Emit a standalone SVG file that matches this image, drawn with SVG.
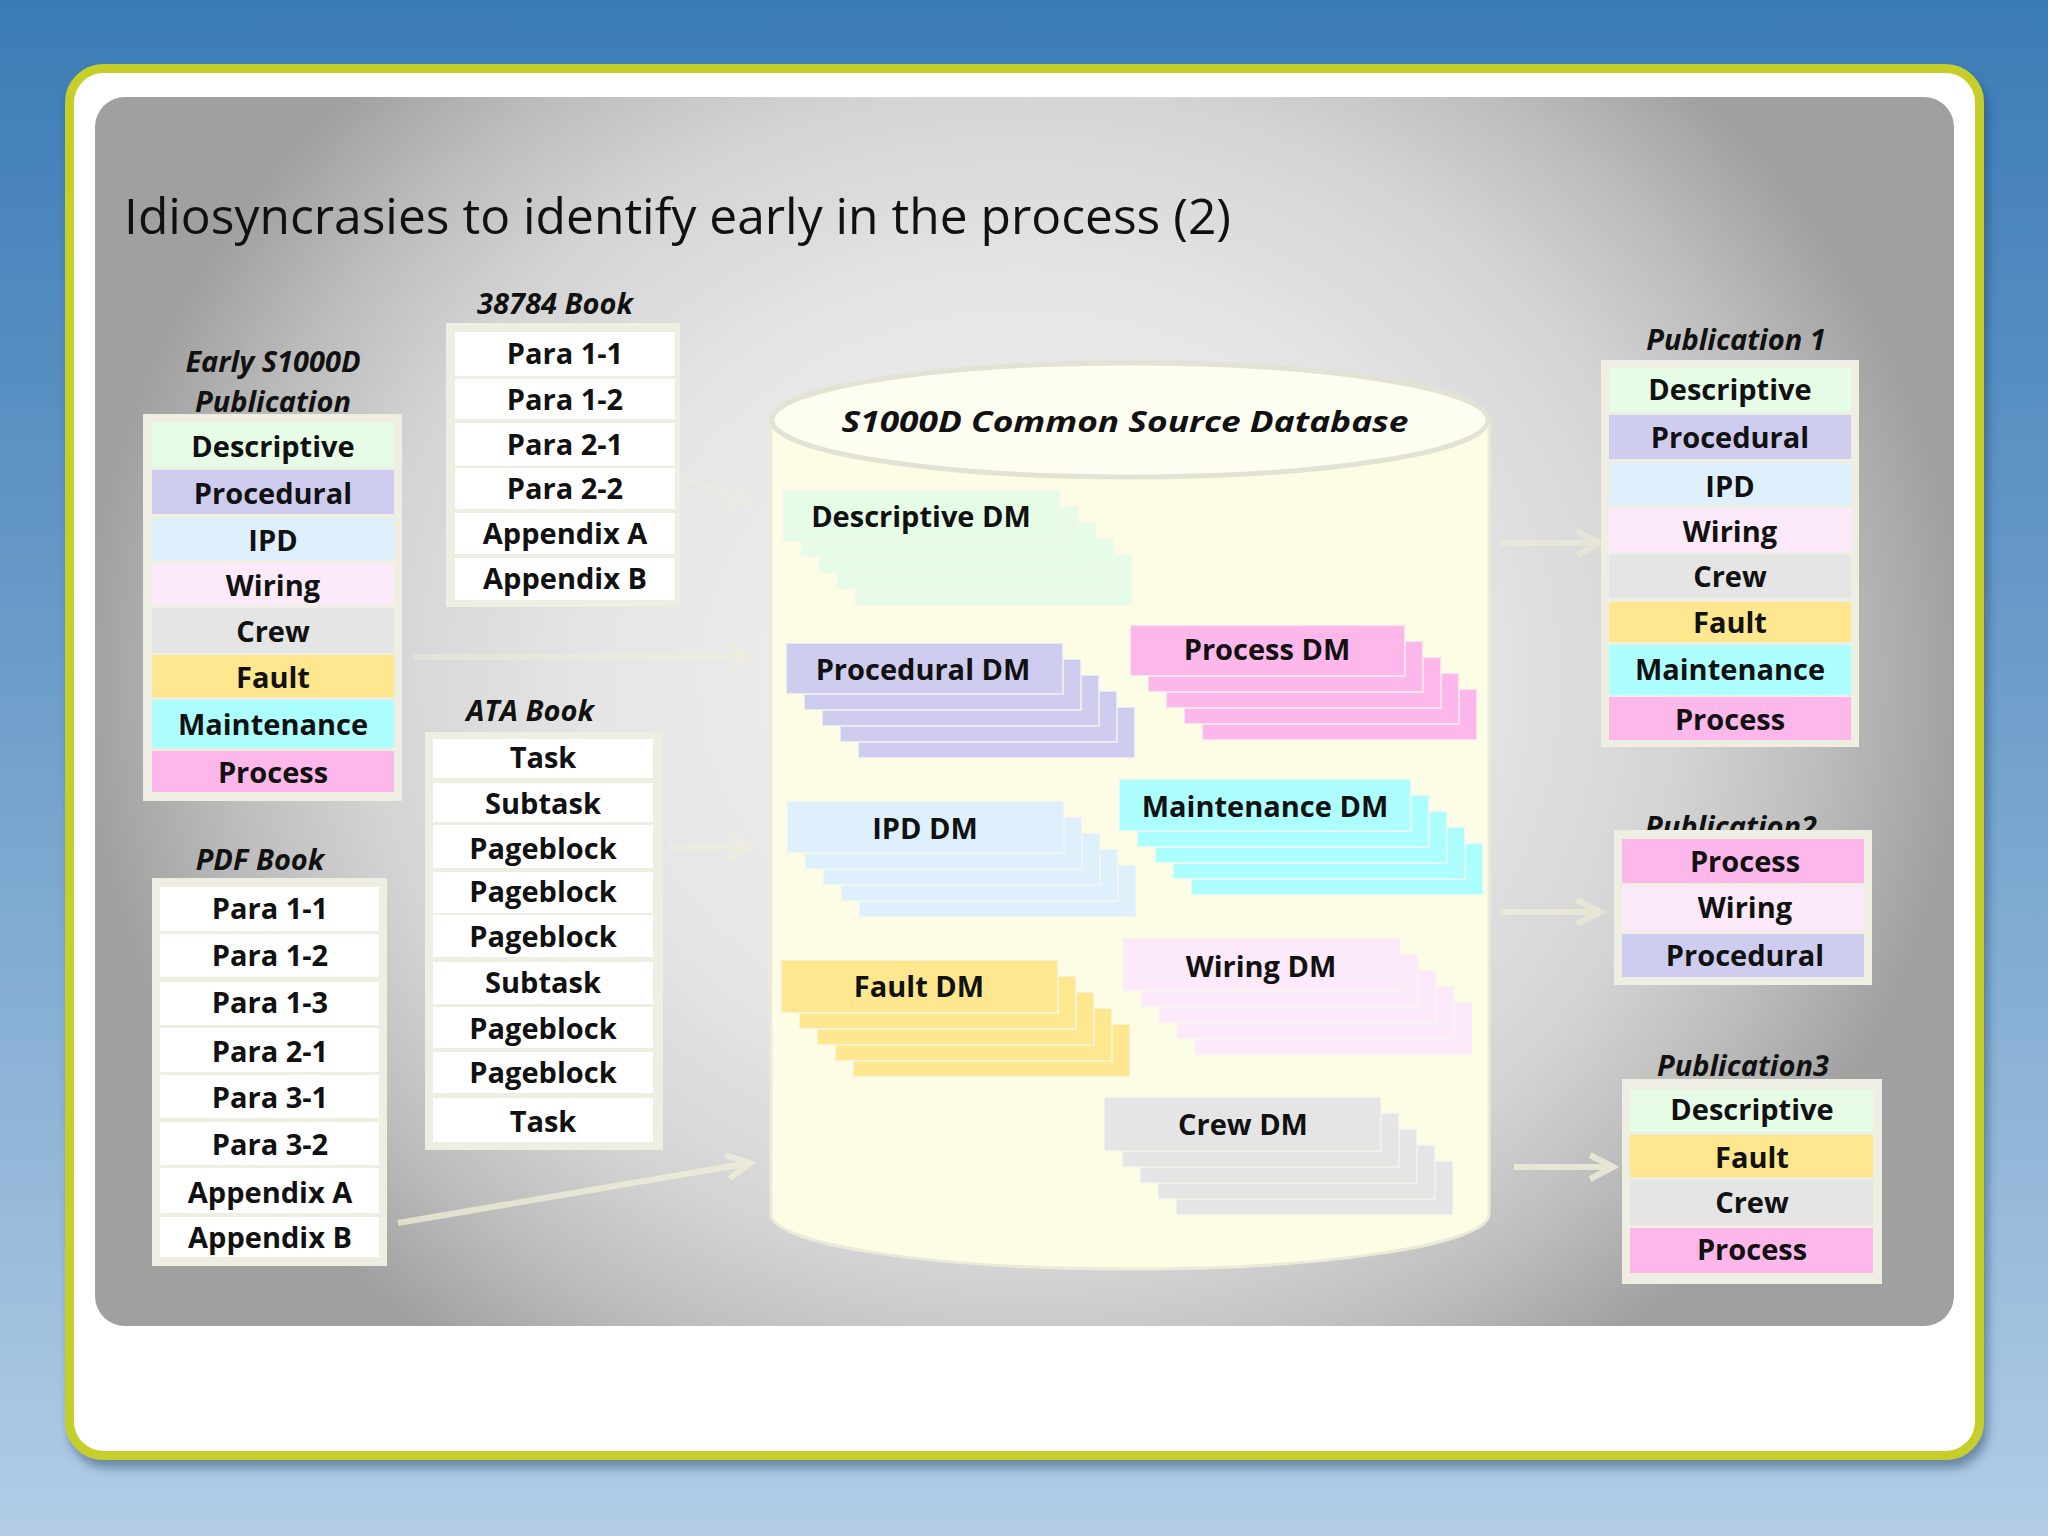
<svg xmlns="http://www.w3.org/2000/svg" width="2048" height="1536" viewBox="0 0 2048 1536">
<defs>
<linearGradient id="bg" x1="0" y1="0" x2="0" y2="1">
<stop offset="0" stop-color="#3b7bb6"/>
<stop offset="0.5" stop-color="#74a2cd"/>
<stop offset="1" stop-color="#b2cce5"/>
</linearGradient>
<radialGradient id="panelG" gradientUnits="userSpaceOnUse" cx="1024" cy="680" r="940" gradientTransform="translate(1024 680) scale(1 0.9) translate(-1024 -680)">
<stop offset="0" stop-color="#f1f1f1"/>
<stop offset="0.45" stop-color="#e6e6e6"/>
<stop offset="0.7" stop-color="#d4d4d4"/>
<stop offset="0.85" stop-color="#bdbdbd"/>
<stop offset="1" stop-color="#a0a0a0"/>
</radialGradient>
<filter id="shadow" x="-5%" y="-5%" width="110%" height="112%">
<feDropShadow dx="4" dy="8" stdDeviation="5" flood-color="#1e3c5c" flood-opacity="0.45"/>
</filter>
<marker id="chev" markerUnits="userSpaceOnUse" viewBox="-30 -20 40 40" markerWidth="40" markerHeight="40" refX="0" refY="0" orient="auto">
<path d="M-23 -12 L0 0 L-23 12" fill="none" stroke="#f1f0d8" stroke-width="6" stroke-linejoin="miter"/>
</marker>
<style>
.ct{fill:#eeeee2}
.row{fill:#ffffff}
.desc{fill:#e6fce7}
.proc{fill:#cfcdef}
.ipd{fill:#def0fc}
.wir{fill:#fce9fa}
.crew{fill:#e5e5e5}
.flt{fill:#fee78e}
.mnt{fill:#adfefe}
.prc{fill:#fdb7ea}
.lay{stroke:#f6f6ee;stroke-width:2;stroke-opacity:0.7}
text{font-family:"Open Sans","Liberation Sans",sans-serif;fill:#111111}
.lbl{font-weight:700;font-size:29px;text-anchor:middle}
.hd{font-weight:700;font-style:italic;font-size:29px;text-anchor:middle}
.arr{fill:none;stroke:#f1f0d8;stroke-width:6;marker-end:url(#chev)}
</style>
</defs>

<rect x="0" y="0" width="2048" height="1536" fill="url(#bg)"/>
<rect x="69.5" y="68.5" width="1910" height="1387" rx="34" fill="#ffffff" stroke="#c6cf2b" stroke-width="9" filter="url(#shadow)"/>
<rect x="95" y="97" width="1859" height="1229" rx="30" fill="url(#panelG)"/>

<g id="title">
<text x="124" y="234" font-size="49" textLength="1107" lengthAdjust="spacingAndGlyphs">Idiosyncrasies to identify early in the process (2)</text>
</g>

<g id="database">
<path d="M771 420 L771 1214 A359 55 0 0 0 1489 1214 L1489 420 Z" fill="#fdfde6" stroke="#ecebd9" stroke-width="3"/>
<ellipse cx="1130" cy="420" rx="358" ry="57" fill="#fdfdf1" stroke="#e3e3d3" stroke-width="5"/>
<text class="hd" x="1125" y="432" font-size="34" textLength="567" lengthAdjust="spacingAndGlyphs">S1000D Common Source Database</text>
</g>

<g id="dm-descriptive">
<rect class="desc lay" x="855" y="554" width="277" height="51"/>
<rect class="desc lay" x="837" y="538" width="277" height="51"/>
<rect class="desc lay" x="819" y="522" width="277" height="51"/>
<rect class="desc lay" x="801" y="506" width="277" height="51"/>
<rect class="desc lay" x="783" y="490" width="277" height="51"/>
<text class="lbl" x="921" y="527">Descriptive DM</text>
</g>
<g id="dm-procedural">
<rect class="proc lay" x="858" y="707" width="277" height="51"/>
<rect class="proc lay" x="840" y="691" width="277" height="51"/>
<rect class="proc lay" x="822" y="675" width="277" height="51"/>
<rect class="proc lay" x="804" y="659" width="277" height="51"/>
<rect class="proc lay" x="786" y="643" width="277" height="51"/>
<text class="lbl" x="923" y="680">Procedural DM</text>
</g>
<g id="dm-process">
<rect class="prc lay" x="1202" y="689" width="275" height="51"/>
<rect class="prc lay" x="1184" y="673" width="275" height="51"/>
<rect class="prc lay" x="1166" y="657" width="275" height="51"/>
<rect class="prc lay" x="1148" y="641" width="275" height="51"/>
<rect class="prc lay" x="1130" y="625" width="275" height="51"/>
<text class="lbl" x="1267" y="660">Process DM</text>
</g>
<g id="dm-maintenance">
<rect class="mnt lay" x="1191" y="843" width="292" height="52"/>
<rect class="mnt lay" x="1173" y="827" width="292" height="52"/>
<rect class="mnt lay" x="1155" y="811" width="292" height="52"/>
<rect class="mnt lay" x="1137" y="795" width="292" height="52"/>
<rect class="mnt lay" x="1119" y="779" width="292" height="52"/>
<text class="lbl" x="1265" y="817">Maintenance DM</text>
</g>
<g id="dm-ipd">
<rect class="ipd lay" x="859" y="865" width="277" height="52"/>
<rect class="ipd lay" x="841" y="849" width="277" height="52"/>
<rect class="ipd lay" x="823" y="833" width="277" height="52"/>
<rect class="ipd lay" x="805" y="817" width="277" height="52"/>
<rect class="ipd lay" x="787" y="801" width="277" height="52"/>
<text class="lbl" x="925" y="839">IPD DM</text>
</g>
<g id="dm-fault">
<rect class="flt lay" x="853" y="1024" width="277" height="53"/>
<rect class="flt lay" x="835" y="1008" width="277" height="53"/>
<rect class="flt lay" x="817" y="992" width="277" height="53"/>
<rect class="flt lay" x="799" y="976" width="277" height="53"/>
<rect class="flt lay" x="781" y="960" width="277" height="53"/>
<text class="lbl" x="919" y="997">Fault DM</text>
</g>
<g id="dm-wiring">
<rect class="wir lay" x="1195" y="1002" width="277" height="53"/>
<rect class="wir lay" x="1177" y="986" width="277" height="53"/>
<rect class="wir lay" x="1159" y="970" width="277" height="53"/>
<rect class="wir lay" x="1141" y="954" width="277" height="53"/>
<rect class="wir lay" x="1123" y="938" width="277" height="53"/>
<text class="lbl" x="1261" y="977">Wiring DM</text>
</g>
<g id="dm-crew">
<rect class="crew lay" x="1176" y="1161" width="277" height="54"/>
<rect class="crew lay" x="1158" y="1145" width="277" height="54"/>
<rect class="crew lay" x="1140" y="1129" width="277" height="54"/>
<rect class="crew lay" x="1122" y="1113" width="277" height="54"/>
<rect class="crew lay" x="1104" y="1097" width="277" height="54"/>
<text class="lbl" x="1243" y="1135">Crew DM</text>
</g>

<g id="early-s1000d">
<text class="hd" x="273" y="372">Early S1000D</text>
<text class="hd" x="273" y="412">Publication</text>
<rect class="ct" x="143" y="414" width="259" height="387"/>
<rect class="desc" x="152" y="422" width="242" height="45"/>
<rect class="proc" x="152" y="470" width="242" height="44"/>
<rect class="ipd" x="152" y="518" width="242" height="42"/>
<rect class="wir" x="152" y="563" width="242" height="42"/>
<rect class="crew" x="152" y="608" width="242" height="45"/>
<rect class="flt" x="152" y="655" width="242" height="42"/>
<rect class="mnt" x="152" y="700" width="242" height="48"/>
<rect class="prc" x="152" y="751" width="242" height="41"/>
<text class="lbl" x="273" y="457">Descriptive</text>
<text class="lbl" x="273" y="504">Procedural</text>
<text class="lbl" x="273" y="551">IPD</text>
<text class="lbl" x="273" y="596">Wiring</text>
<text class="lbl" x="273" y="642">Crew</text>
<text class="lbl" x="273" y="688">Fault</text>
<text class="lbl" x="273" y="735">Maintenance</text>
<text class="lbl" x="273" y="783">Process</text>
</g>

<g id="book-38784">
<text class="hd" x="555" y="314">38784 Book</text>
<rect class="ct" x="446" y="323" width="234" height="284"/>
<rect class="row" x="455" y="332" width="220" height="44"/>
<rect class="row" x="455" y="379" width="220" height="40"/>
<rect class="row" x="455" y="423" width="220" height="43"/>
<rect class="row" x="455" y="468" width="220" height="41"/>
<rect class="row" x="455" y="513" width="220" height="41"/>
<rect class="row" x="455" y="558" width="220" height="42"/>
<text class="lbl" x="565" y="364">Para 1-1</text>
<text class="lbl" x="565" y="410">Para 1-2</text>
<text class="lbl" x="565" y="455">Para 2-1</text>
<text class="lbl" x="565" y="499">Para 2-2</text>
<text class="lbl" x="565" y="544">Appendix A</text>
<text class="lbl" x="565" y="589">Appendix B</text>
</g>

<g id="ata-book">
<text class="hd" x="530" y="721">ATA Book</text>
<rect class="ct" x="425" y="732" width="238" height="418"/>
<rect class="row" x="433" y="739" width="220" height="39"/>
<rect class="row" x="433" y="783" width="220" height="39"/>
<rect class="row" x="433" y="825" width="220" height="43"/>
<rect class="row" x="433" y="872" width="220" height="41"/>
<rect class="row" x="433" y="915" width="220" height="42"/>
<rect class="row" x="433" y="962" width="220" height="42"/>
<rect class="row" x="433" y="1007" width="220" height="41"/>
<rect class="row" x="433" y="1052" width="220" height="41"/>
<rect class="row" x="433" y="1098" width="220" height="44"/>
<text class="lbl" x="543" y="768">Task</text>
<text class="lbl" x="543" y="814">Subtask</text>
<text class="lbl" x="543" y="859">Pageblock</text>
<text class="lbl" x="543" y="902">Pageblock</text>
<text class="lbl" x="543" y="947">Pageblock</text>
<text class="lbl" x="543" y="993">Subtask</text>
<text class="lbl" x="543" y="1039">Pageblock</text>
<text class="lbl" x="543" y="1083">Pageblock</text>
<text class="lbl" x="543" y="1132">Task</text>
</g>

<g id="pdf-book">
<text class="hd" x="260" y="870">PDF Book</text>
<rect class="ct" x="152" y="878" width="235" height="388"/>
<rect class="row" x="160" y="887" width="219" height="44"/>
<rect class="row" x="160" y="934" width="219" height="43"/>
<rect class="row" x="160" y="982" width="219" height="43"/>
<rect class="row" x="160" y="1028" width="219" height="44"/>
<rect class="row" x="160" y="1075" width="219" height="43"/>
<rect class="row" x="160" y="1122" width="219" height="43"/>
<rect class="row" x="160" y="1168" width="219" height="45"/>
<rect class="row" x="160" y="1217" width="219" height="40"/>
<text class="lbl" x="270" y="919">Para 1-1</text>
<text class="lbl" x="270" y="966">Para 1-2</text>
<text class="lbl" x="270" y="1013">Para 1-3</text>
<text class="lbl" x="270" y="1062">Para 2-1</text>
<text class="lbl" x="270" y="1108">Para 3-1</text>
<text class="lbl" x="270" y="1155">Para 3-2</text>
<text class="lbl" x="270" y="1203">Appendix A</text>
<text class="lbl" x="270" y="1248">Appendix B</text>
</g>

<g id="publication-1">
<text class="hd" x="1736" y="350">Publication 1</text>
<rect class="ct" x="1601" y="360" width="258" height="387"/>
<rect class="desc" x="1609" y="368" width="242" height="44"/>
<rect class="proc" x="1609" y="415" width="242" height="44"/>
<rect class="ipd" x="1609" y="463" width="242" height="42"/>
<rect class="wir" x="1609" y="508" width="242" height="44"/>
<rect class="crew" x="1609" y="555" width="242" height="43"/>
<rect class="flt" x="1609" y="602" width="242" height="40"/>
<rect class="mnt" x="1609" y="645" width="242" height="50"/>
<rect class="prc" x="1609" y="697" width="242" height="43"/>
<text class="lbl" x="1730" y="400">Descriptive</text>
<text class="lbl" x="1730" y="448">Procedural</text>
<text class="lbl" x="1730" y="497">IPD</text>
<text class="lbl" x="1730" y="542">Wiring</text>
<text class="lbl" x="1730" y="587">Crew</text>
<text class="lbl" x="1730" y="633">Fault</text>
<text class="lbl" x="1730" y="680">Maintenance</text>
<text class="lbl" x="1730" y="730">Process</text>
</g>

<g id="publication-2">
<text class="hd" x="1731" y="837">Publication2</text>
<rect class="ct" x="1614" y="830" width="258" height="155"/>
<rect class="prc" x="1622" y="839" width="242" height="44"/>
<rect class="wir" x="1622" y="886" width="242" height="45"/>
<rect class="proc" x="1622" y="934" width="242" height="43"/>
<text class="lbl" x="1745" y="872">Process</text>
<text class="lbl" x="1745" y="918">Wiring</text>
<text class="lbl" x="1745" y="966">Procedural</text>
</g>

<g id="publication-3">
<text class="hd" x="1743" y="1076">Publication3</text>
<rect class="ct" x="1622" y="1079" width="260" height="205"/>
<rect class="desc" x="1630" y="1090" width="243" height="42"/>
<rect class="flt" x="1630" y="1135" width="243" height="42"/>
<rect class="crew" x="1630" y="1180" width="243" height="45"/>
<rect class="prc" x="1630" y="1228" width="243" height="45"/>
<text class="lbl" x="1752" y="1120">Descriptive</text>
<text class="lbl" x="1752" y="1168">Fault</text>
<text class="lbl" x="1752" y="1213">Crew</text>
<text class="lbl" x="1752" y="1260">Process</text>
</g>

<g id="connectors">
<line class="arr" opacity="0.45" x1="413" y1="657" x2="750" y2="657"/>
<line class="arr" opacity="0.35" x1="683" y1="478" x2="750" y2="503"/>
<line class="arr" opacity="0.45" x1="668" y1="847" x2="750" y2="847"/>
<line class="arr" opacity="0.75" x1="398" y1="1223" x2="750" y2="1163"/>
<line class="arr" opacity="0.55" x1="1500" y1="543" x2="1600" y2="543"/>
<line class="arr" opacity="0.6" x1="1500" y1="912" x2="1600" y2="912"/>
<line class="arr" opacity="0.8" x1="1514" y1="1167" x2="1613" y2="1167"/>
</g>
</svg>
